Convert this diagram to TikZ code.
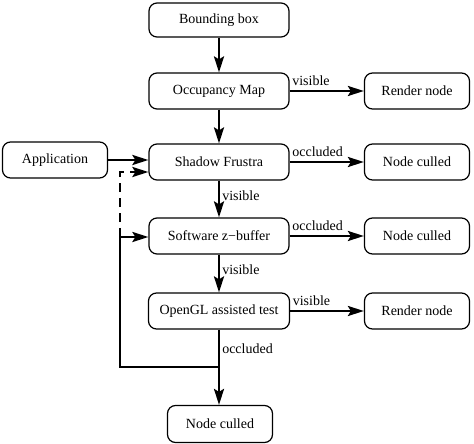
\documentclass[tikz,border=0pt]{standalone}
\usepackage{fontspec}
\setmainfont{Liberation Serif}
\usetikzlibrary{arrows.meta}
\begin{document}
\begin{tikzpicture}[x=1pt,y=-1pt,
  box/.style={draw, line width=1.2pt, rounded corners=8pt, minimum height=36pt, inner sep=2pt, align=center, font=\fontsize{14}{16}\selectfont},
  mainbox/.style={box, minimum width=140pt},
  sidebox/.style={box, minimum width=105pt},
  arr/.style={line width=2.5pt, -{Stealth[length=16pt,width=10pt,inset=3pt]}},
  lbl/.style={font=\fontsize{14}{16}\selectfont, inner sep=2pt},
  hlbl/.style={lbl, anchor=south west, inner xsep=1.5pt, inner ysep=4.5pt, pos=0}]
\useasboundingbox (0,0) rectangle (474,444);
% main column
\node[mainbox, minimum height=34pt] (bb) at (219,20) {Bounding box};
\node[mainbox] (occ) at (219,91) {Occupancy Map};
\node[mainbox] (sf) at (219,162) {Shadow Frustra};
\node[mainbox] (sz) at (219,236) {Software z−buffer};
\node[mainbox, minimum width=141pt] (ogl) at (219,311) {OpenGL assisted test};
\node[sidebox, minimum height=37pt] (ncb) at (220,424) {Node culled};
% right column
\node[sidebox] (rn1) at (417,91) {Render node};
\node[sidebox] (nc1) at (417,162) {Node culled};
\node[sidebox] (nc2) at (417,236) {Node culled};
\node[sidebox] (rn2) at (417,311) {Render node};
% application
\node[sidebox] (app) at (55,160) {Application};
% vertical flow
\draw[arr] (bb) -- (occ);
\draw[arr] (occ) -- (sf);
\draw[arr] (sf) -- node[lbl, right, pos=0.4] {visible} (sz);
\draw[arr] (sz) -- node[lbl, right, pos=0.4] {visible} (ogl);
\draw[arr] (ogl.south) -- node[lbl, right, pos=0.25] {occluded} (ncb.north -| ogl.south);
% horizontal flow
\draw[arr] (occ) -- node[hlbl] {visible} (rn1);
\draw[arr] (sf) -- node[hlbl] {occluded} (nc1);
\draw[arr] (sz) -- node[hlbl] {occluded} (nc2);
\draw[arr] (ogl) -- node[hlbl] {visible} (rn2);
\draw[arr] (app.east) -- (sf.west |- app.east);
% feedback
\coordinate (j) at (219,367);
\coordinate (l) at (120,367);
\coordinate (m) at (120,237);
\coordinate (t) at (120,172);
\draw[line width=2.5pt] (j) -- (l) -- (m);
\draw[arr] (m) -- (sz.west |- m);
\draw[arr, dash pattern=on 9pt off 6pt] (m) -- (t) -- (t -| sf.west);
\end{tikzpicture}
\end{document}
